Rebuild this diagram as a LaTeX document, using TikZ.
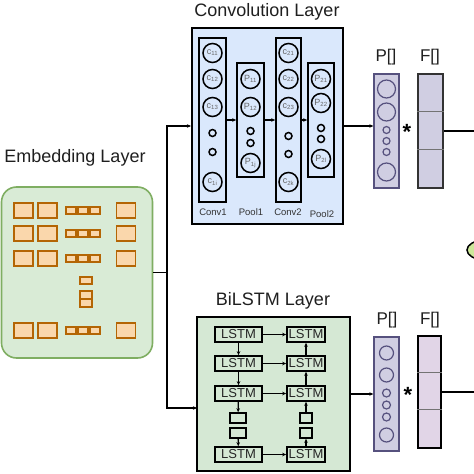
\documentclass[tikz,border=0pt]{standalone}
\usepackage{fontspec}
\setmainfont{Liberation Sans}
\usetikzlibrary{arrows.meta,shapes.geometric}
\definecolor{embfill}{HTML}{D9EBD6}
\definecolor{embline}{HTML}{7FAE62}
\definecolor{tokfill}{HTML}{FAD7AC}
\definecolor{tokline}{HTML}{B46504}
\definecolor{convfill}{HTML}{DAE8FC}
\definecolor{lstmfill}{HTML}{D5E8D4}
\definecolor{pfill}{HTML}{D0CEE2}
\definecolor{pline}{HTML}{56517E}
\definecolor{fbfill}{HTML}{E1D5E7}
\definecolor{outfill}{HTML}{CDE89A}
\tikzset{
  title/.style={font=\fontsize{18}{20}\selectfont, text=black!88},
  embbox/.style={draw=embline, fill=embfill, line width=1.6, rounded corners=15, minimum width=151, minimum height=171, inner sep=0},
  tokb/.style={draw=tokline, fill=tokfill, line width=1.4, inner sep=0, minimum width=19, minimum height=15},
  toks/.style={draw=tokline, fill=tokfill, line width=1.3, inner sep=0, minimum width=10, minimum height=7},
  bigbox/.style={draw=black, line width=2, inner sep=0},
  colbox/.style={draw=black, line width=1.7, fill=convfill, inner sep=0},
  ccirc/.style={circle, draw=black, line width=1.5, fill=convfill, minimum size=19, inner sep=0, text=black!60, font=\fontsize{9}{9}\selectfont},
  cdot/.style={circle, draw=black, line width=1.5, minimum size=7, inner sep=0},
  lbl/.style={font=\fontsize{9.5}{10}\selectfont, text=black!80},
  lstm/.style={draw=black, line width=1.6, fill=lstmfill, inner sep=0, minimum height=15, font=\fontsize{13}{14}\selectfont, text=black!85},
  lsm/.style={draw=black, line width=1.6, fill=lstmfill, inner sep=0, minimum height=10},
  arr/.style={line width=1.3, -{Stealth[length=4pt,width=3.5pt]}},
  ln/.style={line width=1.4},
  pcol/.style={draw=pline, fill=pfill, line width=1.3, inner sep=0, minimum width=25, minimum height=114},
  pcirc/.style={circle, draw=pline, line width=1.2, inner sep=0},
  star/.style={font=\fontsize{22}{22}\selectfont\bfseries},
}
\begin{document}
\begin{tikzpicture}[x=1pt,y=-1pt]
\useasboundingbox (0,0) rectangle (474,474);
\clip (0,0) rectangle (474,474);
% ---------- Embedding layer
\node[title] (embt) at (75,158) {Embedding Layer};
\node[embbox] (emb) at (77,272.5) {};
\foreach \r/\y in {1/210.5,2/233.5,3/258.5,4/330.5}{
  \node[tokb] (t\r a) at (23.5,\y) {};
  \node[tokb] (t\r b) at (47.5,\y) {};
  \node[toks] (t\r c) at (71,\y) {};
  \node[toks] (t\r d) at (83,\y) {};
  \node[toks] (t\r e) at (95,\y) {};
  \node[tokb] (t\r f) at (126,\y) {};
}
\node[toks, minimum width=12] (v1) at (86,280.5) {};
\node[toks, minimum width=12, minimum height=8] (v2) at (86,295) {};
\node[toks, minimum width=12, minimum height=8] (v3) at (86,303) {};
% ---------- Convolution layer
\node[title] (convt) at (267,12) {Convolution Layer};
\node[bigbox, fill=convfill, minimum width=151, minimum height=196] (conv) at (267.5,126) {};
\node[colbox, minimum width=27, minimum height=164] (conv1) at (212.5,120) {};
\node[colbox, minimum width=27, minimum height=114] (pool1) at (250.5,120) {};
\node[colbox, minimum width=25, minimum height=164] (conv2) at (288.5,120) {};
\node[colbox, minimum width=26, minimum height=114] (pool2) at (321,120) {};
% conv1 circles
\node[ccirc] (c11) at (212.5,53) {c\textsubscript{11}};
\node[ccirc] (c12) at (212.5,79) {c\textsubscript{12}};
\node[ccirc] (c13) at (212.5,107) {c\textsubscript{13}};
\node[cdot] (c1d1) at (212.5,133) {};
\node[cdot] (c1d2) at (212.5,152) {};
\node[ccirc] (c1i) at (212.5,182) {c\textsubscript{1i}};
% pool1 circles
\node[ccirc] (p11) at (250.5,79) {P\textsubscript{11}};
\node[ccirc] (p12) at (250.5,107) {P\textsubscript{12}};
\node[cdot] (p1d1) at (250.5,131) {};
\node[cdot] (p1d2) at (250.5,143) {};
\node[ccirc] (p1j) at (250.5,163) {P\textsubscript{1j}};
% conv2 circles
\node[ccirc] (c21) at (288.5,53) {c\textsubscript{21}};
\node[ccirc] (c22) at (288.5,79) {c\textsubscript{22}};
\node[ccirc] (c23) at (288.5,107) {c\textsubscript{23}};
\node[cdot] (c2d1) at (288.5,136) {};
\node[cdot] (c2d2) at (288.5,154) {};
\node[ccirc] (c2k) at (288.5,182) {c\textsubscript{2k}};
% pool2 circles
\node[ccirc] (p21) at (321,79) {P\textsubscript{21}};
\node[ccirc] (p22) at (321,103) {P\textsubscript{22}};
\node[cdot] (p2d1) at (321,128) {};
\node[cdot] (p2d2) at (321,139) {};
\node[ccirc] (p2l) at (321,159) {P\textsubscript{2l}};
\draw[arr] (conv1.east) -- (pool1.west);
\draw[arr] (pool1.east) -- (conv2.west);
\draw[arr] (conv2.east) -- (pool2.west);
\node[lbl] (lc1) at (213,212) {Conv1};
\node[lbl] (lp1) at (251,212) {Pool1};
\node[lbl] (lc2) at (288,212) {Conv2};
\node[lbl] (lp2) at (322,214) {Pool2};
% ---------- BiLSTM layer
\node[title] (bilt) at (273,301) {BiLSTM Layer};
\node[bigbox, fill=lstmfill, minimum width=153, minimum height=154] (bil) at (273.5,394) {};
\foreach \r/\y in {1/334.5,2/363.5,3/393.5,4/454.5}{
  \node[lstm, minimum width=47] (l\r) at (238.5,\y) {LSTM};
  \node[lstm, minimum width=38] (r\r) at (306,\y) {LSTM};
  \draw[arr] (l\r) -- (r\r);
}
\node[lsm, minimum width=16] (ls1) at (238,418) {};
\node[lsm, minimum width=16] (ls2) at (238,433) {};
\node[lsm, minimum width=12] (rs1) at (306,418) {};
\node[lsm, minimum width=12] (rs2) at (306,433) {};
\draw[arr] (l1) -- (l2);
\draw[arr] (l2) -- (l3);
\draw[arr] (l3) -- (ls1);
\draw[arr] (ls2) -- (l4);
\draw[arr] (r4) -- (rs2);
\draw[arr] (rs1) -- (r3);
\draw[arr] (r3) -- (r2);
\draw[arr] (r2) -- (r1);
% ---------- connections from embedding
\coordinate (jn) at (167,272.5);
\coordinate (bin) at (197,408);
\draw[ln] (emb.east) -- (jn);
\draw[arr] (jn) |- (conv.west);
\draw[arr] (jn) |- (bin);
% ---------- top P/F
\node[title, font=\fontsize{17}{20}\selectfont] (ptt) at (386,57) {P[]};
\node[title, font=\fontsize{17}{20}\selectfont] (ftt) at (430,57) {F[]};
\node[pcol] (ptop) at (386.5,131) {};
\node[pcirc, minimum size=18] (pt1) at (386.5,89) {};
\node[pcirc, minimum size=18] (pt2) at (386.5,112) {};
\node[pcirc, minimum size=7] (pt3) at (386.5,130) {};
\node[pcirc, minimum size=7] (pt4) at (386.5,141) {};
\node[pcirc, minimum size=7] (pt5) at (386.5,152) {};
\node[pcirc, minimum size=18] (pt6) at (386.5,172) {};
\node[draw=black!80, fill=pfill, line width=2.2, inner sep=0, minimum width=25, minimum height=114] (ftop) at (430.5,131) {};
\draw[black!55, line width=1] (ftop.west |- 0,111) -- (ftop.east |- 0,111);
\draw[black!55, line width=1] (ftop.west |- 0,149) -- (ftop.east |- 0,149);
\node[star] (st1) at (407,132) {*};
\draw[arr] (conv.east) -- (conv.east -| ptop.west);
\coordinate (o1) at (476,131);
\draw[ln] (ftop.east) -- (o1);
% ---------- bottom P/F
\node[title, font=\fontsize{17}{20}\selectfont] (pbt) at (387,320) {P[]};
\node[title, font=\fontsize{17}{20}\selectfont] (fbt) at (430,320) {F[]};
\node[pcol] (pbot) at (386.5,394) {};
\node[pcirc, minimum size=14] (pb1) at (386.5,353) {};
\node[pcirc, minimum size=14] (pb2) at (386.5,375) {};
\node[pcirc, minimum size=8] (pb3) at (386.5,393) {};
\node[pcirc, minimum size=8] (pb4) at (386.5,405) {};
\node[pcirc, minimum size=8] (pb5) at (386.5,417) {};
\node[pcirc, minimum size=14] (pb6) at (386.5,435) {};
\node[draw=black, fill=fbfill, line width=1.8, inner sep=0, minimum width=23, minimum height=112] (fbot) at (429.5,392) {};
\draw[black!55, line width=1] (fbot.west |- 0,372) -- (fbot.east |- 0,372);
\draw[black!55, line width=1] (fbot.west |- 0,409) -- (fbot.east |- 0,409);
\node[star] (st2) at (408,395) {*};
\draw[arr] (bil.east) -- (pbot.west);
\coordinate (o2) at (476,392);
\draw[ln] (fbot.east) -- (o2);
% ---------- output ellipse (cut at the edge)
\node[ellipse, draw=black, line width=1.5, fill=outfill, minimum width=32, minimum height=19, inner sep=0] (out) at (483,250) {};
\end{tikzpicture}
\end{document}
